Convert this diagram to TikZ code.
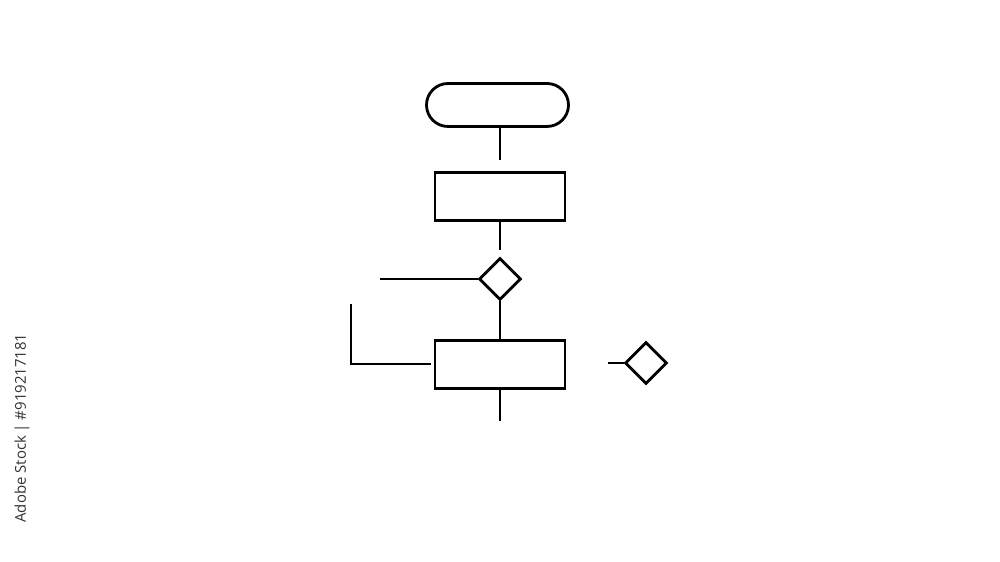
\documentclass[tikz,border=0pt]{standalone}
\usepackage{fontspec}
\newfontfamily\stockfont{Open Sans}
\usetikzlibrary{shapes.geometric,shapes.misc}
\begin{document}
\begin{tikzpicture}[term/.style = {draw, rounded rectangle, minimum width=2.84cm, minimum height=0.86cm, inner sep=0pt},
		proc/.style = {draw, rectangle, minimum width=2.6cm, minimum height=0.96cm, inner sep=0pt},
		dec/.style = {draw, diamond, minimum width=0.84cm, minimum height=0.84cm, inner sep=0pt},
		line width=1.6pt]
		\useasboundingbox (0,0) rectangle (20,11.24);
		\node[term] (start) at (9.95,9.14) {};
		\node[proc] (box1) at (10,7.31) {};
		\node[dec] (ask1) at (10,5.66) {};
		\node[proc] (box2) at (10,3.95) {};
		\node[dec] (ask2) at (12.92,3.98) {};
		\coordinate (s1) at (10,8.04);
		\coordinate (b1) at (10,6.24);
		\coordinate (in1) at (7.6,5.66);
		\coordinate (up) at (7.02,5.16);
		\coordinate (in2) at (8.62,3.96);
		\coordinate (out2) at (10,2.82);
		\coordinate (in3) at (12.16,3.98);
		\draw[-] (start.south -| s1) -- (s1);
		\draw[-] (box1) -- (b1);
		\draw[-] (in1) -- (ask1.west);
		\draw[-] (ask1.south) -- (box2.north);
		\draw[-] (up) |- (in2);
		\draw[-] (box2.south) -- (out2);
		\draw[-] (in3) -- (ask2.west);
		\node[rotate=90, text=black!80, font=\stockfont\fontsize{8.5}{10}\selectfont] (mark) at (0.44,2.68) {Adobe Stock | \#919217181};
	\end{tikzpicture}
\end{document}
